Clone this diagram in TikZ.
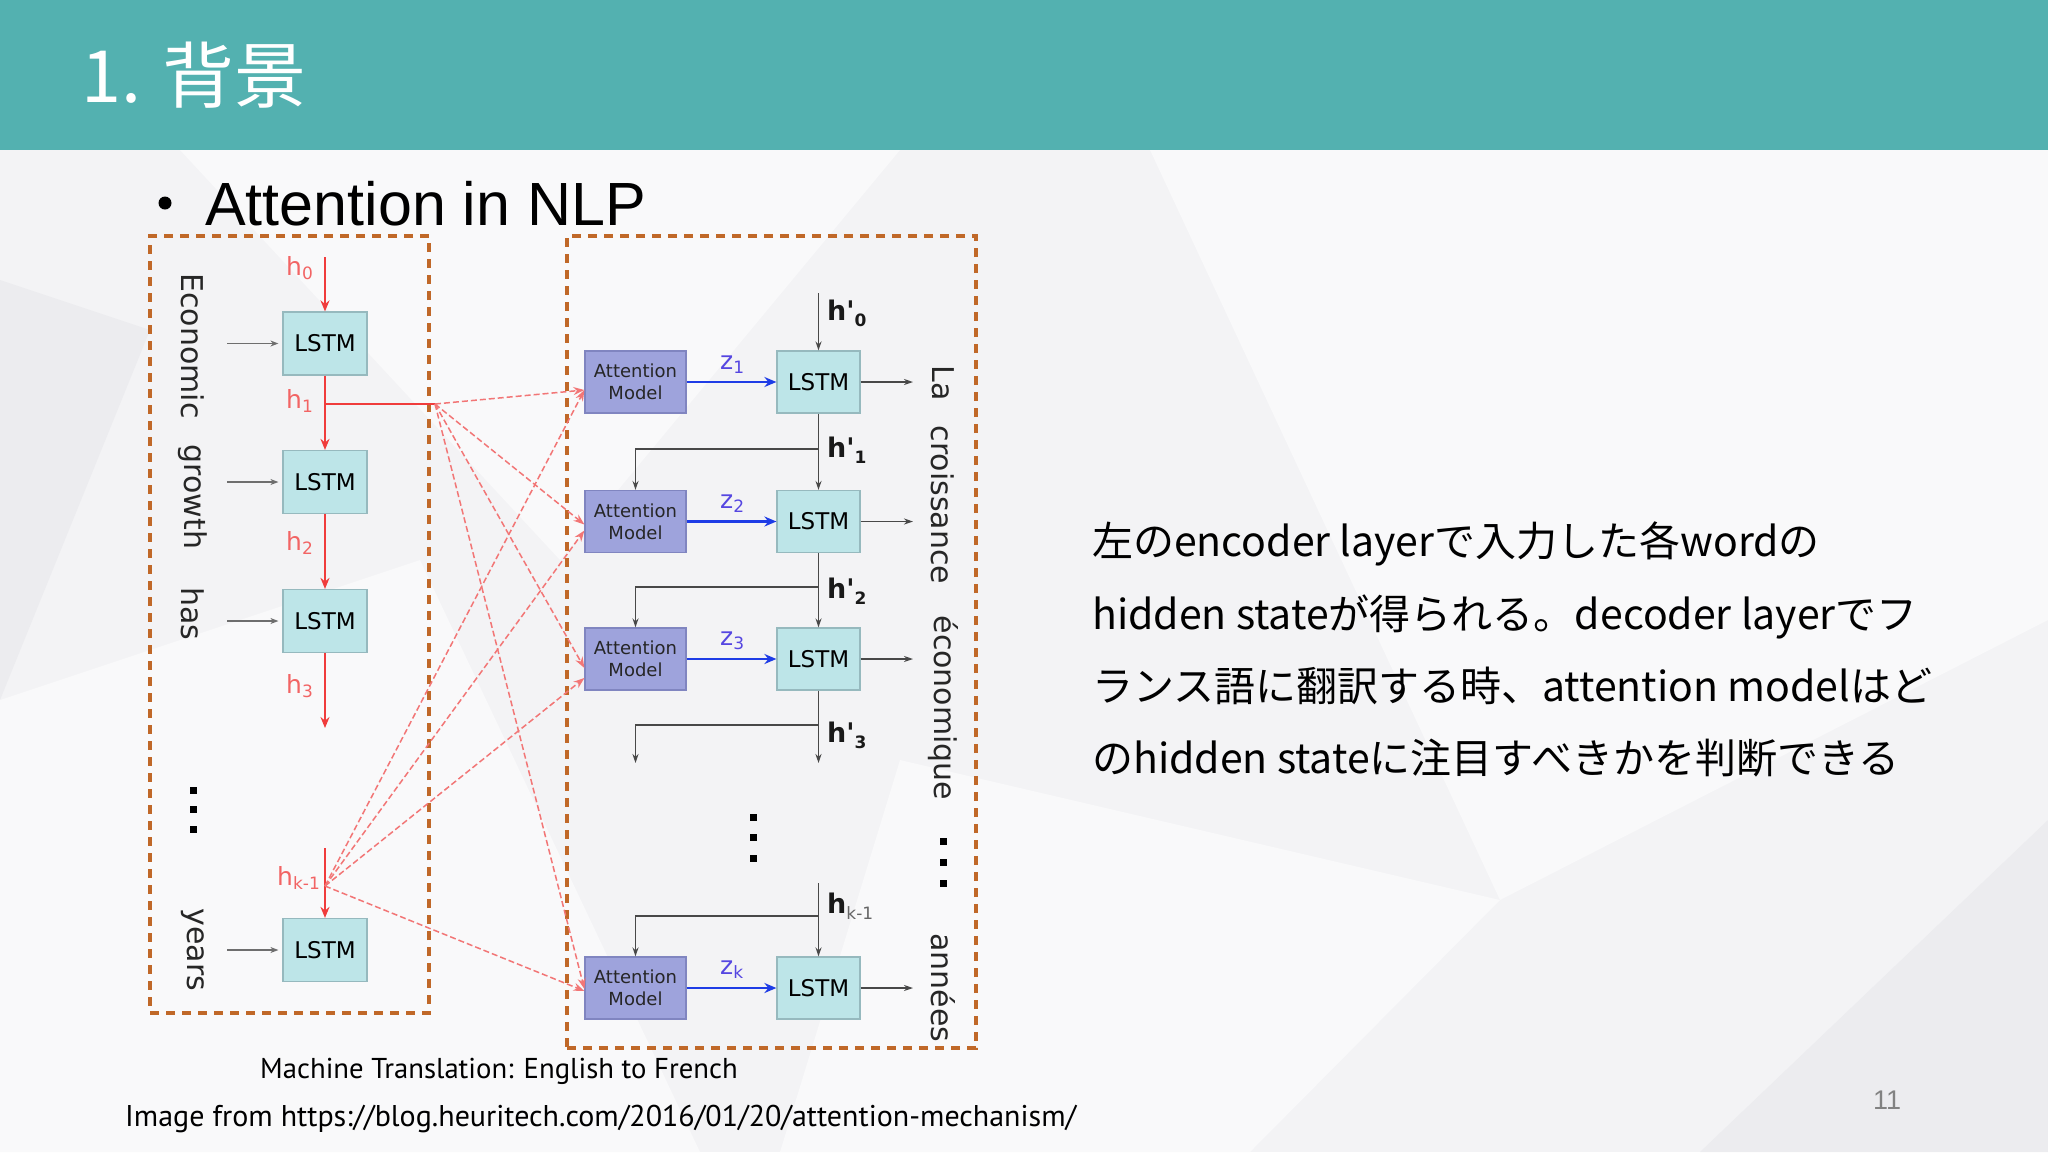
\documentclass[tikz,border=0pt]{standalone}
\usepackage{fontspec}
\setmainfont{Liberation Sans}
\newfontfamily\cjk{Noto Sans CJK JP}
\newfontfamily\dv{DejaVu Sans}
\newfontfamily\pts{PT Sans}
\usetikzlibrary{arrows.meta}
\definecolor{bandteal}{RGB}{83,177,176}
\definecolor{bgbase}{RGB}{243,243,245}
\definecolor{bglight}{RGB}{249,249,250}
\definecolor{bgdark}{RGB}{236,236,239}
\definecolor{dashorange}{RGB}{192,104,40}
\definecolor{lstmfill}{RGB}{189,229,232}
\definecolor{lstmborder}{RGB}{150,185,190}
\definecolor{attnfill}{RGB}{158,163,220}
\definecolor{attnborder}{RGB}{128,133,192}
\definecolor{redline}{RGB}{240,60,60}
\definecolor{fanred}{RGB}{242,118,118}
\definecolor{redtext}{RGB}{242,100,100}
\definecolor{darkline}{RGB}{72,72,72}
\definecolor{grayline}{RGB}{110,110,110}
\definecolor{bluearr}{RGB}{30,60,230}
\definecolor{zblue}{RGB}{85,70,225}
\definecolor{pagegray}{RGB}{130,130,130}
\newcommand\rsb[1]{\raisebox{-4pt}{\fontsize{17}{17}\selectfont #1}}
\newcommand\dsb[1]{\raisebox{-6pt}{\fontsize{17}{17}\selectfont #1}}
\tikzset{
 obox/.style={draw=dashorange, line width=4pt, dash pattern=on 9pt off 7pt, inner sep=0, anchor=north west},
 lstm/.style={draw=lstmborder, fill=lstmfill, line width=1.2pt, minimum width=84pt, minimum height=63pt, inner sep=0, font=\dv\fontsize{23}{23}\selectfont, text=black},
 attn/.style={draw=attnborder, fill=attnfill, line width=1.2pt, minimum width=101pt, minimum height=62pt, inner sep=0, align=center, font=\dv\fontsize{18}{22}\selectfont, text=black!85},
 redarr/.style={draw=redline, line width=2pt, -{Stealth[length=11pt,width=9pt]}},
 redln/.style={draw=redline, line width=2pt},
 fan/.style={draw=fanred, line width=1.5pt, dash pattern=on 6pt off 3pt, -{Stealth[length=11pt,width=8pt]}},
 darr/.style={draw=darkline, line width=1.6pt, -{Stealth[length=9pt,width=6pt]}},
 garr/.style={draw=grayline, line width=1.2pt, -{Stealth[length=8pt,width=6pt]}},
 blarr/.style={draw=bluearr, line width=2.2pt, -{Stealth[length=12pt,width=10pt]}},
 rlab/.style={anchor=base west, inner sep=0, text=redtext, font=\dv\fontsize{25}{25}\selectfont},
 dlab/.style={anchor=base west, inner sep=0, text=black!90, font=\dv\bfseries\fontsize{27}{27}\selectfont},
 zlab/.style={anchor=base west, inner sep=0, text=zblue, font=\dv\fontsize{25}{25}\selectfont},
 word/.style={rotate=-90, inner sep=0, font=\dv\fontsize{30}{30}\selectfont, text=black!85},
 dotsq/.style={fill=black, minimum size=7pt, inner sep=0},
 jp/.style={anchor=base west, inner sep=0, font=\cjk\fontsize{41}{41}\selectfont, text=black},
}
\begin{document}
\begin{tikzpicture}[x=1pt,y=-1pt]
\useasboundingbox (0,0) rectangle (2048,1152);
% background
\fill[bgbase] (0,0) rectangle (2048,1152);
\fill[bglight] (180,150) -- (900,150) -- (560,560) -- cycle;
\fill[bglight] (1150,150) -- (2048,150) -- (2048,620) -- (1500,900) -- cycle;
\fill[bgdark] (0,280) -- (150,330) -- (0,700) -- cycle;
\fill[bglight] (0,700) -- (420,560) -- (700,1152) -- (0,1152) -- cycle;
\fill[bgdark] (1700,1152) -- (2048,820) -- (2048,1152) -- cycle;
\fill[bglight] (900,760) -- (1500,900) -- (1250,1152) -- (780,1152) -- cycle;
% header band
\fill[bandteal] (0,0) rectangle (2048,150);
\node[anchor=base west, inner sep=0, text=white, font=\cjk\fontsize{72}{80}\selectfont] (title) at (81,102) {1. 背景};
\node[circle, fill=black, inner sep=0, minimum size=13pt] (bul) at (165,203) {};
\node[anchor=base west, inner sep=0, font=\fontsize{61}{70}\selectfont] (sub) at (205,225) {Attention in NLP};
% dashed boxes
\node[obox, minimum width=279pt, minimum height=777pt] (encbox) at (148,234) {};
\node[obox, minimum width=409pt, minimum height=812pt] (decbox) at (565,234) {};
% encoder
\node[lstm] (e1) at (325,343.5) {LSTM};
\node[lstm] (e2) at (325,482) {LSTM};
\node[lstm] (e3) at (325,621) {LSTM};
\node[lstm] (ek) at (325,950) {LSTM};
\coordinate (h0s) at (325,257);
\coordinate (h3e) at (325,728);
\coordinate (hks) at (325,848);
\draw[redarr] (h0s) -- (e1.north);
\draw[redarr] (e1.south) -- (e2.north);
\draw[redarr] (e2.south) -- (e3.north);
\draw[redarr] (e3.south) -- (h3e);
\draw[redarr] (hks) -- (ek.north);
\node[rlab] (lh0) at (286,275) {h\rsb{0}};
\node[rlab] (lh1) at (286,408) {h\rsb{1}};
\node[rlab] (lh2) at (286,550) {h\rsb{2}};
\node[rlab] (lh3) at (286,693) {h\rsb{3}};
\node[rlab] (lhk) at (277,885) {h\rsb{k-1}};
% encoder inputs
\foreach \n/\yy in {i1/343.5, i2/482, i3/621, ik/950} {\coordinate (\n) at (227,\yy);}
\draw[garr] (i1) -- ([xshift=-4pt]e1.west);
\draw[garr] (i2) -- ([xshift=-4pt]e2.west);
\draw[garr] (i3) -- ([xshift=-4pt]e3.west);
\draw[garr] (ik) -- ([xshift=-4pt]ek.west);
\node[word] (w1) at (193,346) {Economic};
\node[word] (w2) at (193,497) {growth};
\node[word] (w3) at (193,614) {has};
\node[word] (wk) at (193,950) {years};
\node[dotsq] (ld1) at (193,790) {};
\node[dotsq] (ld2) at (193,809) {};
\node[dotsq] (ld3) at (193,829) {};
% decoder
\node[attn] (a1) at (635.5,382) {Attention\\Model};
\node[attn] (a2) at (635.5,521.5) {Attention\\Model};
\node[attn] (a3) at (635.5,659) {Attention\\Model};
\node[attn] (ak) at (635.5,988) {Attention\\Model};
\node[lstm, minimum width=83pt, minimum height=62pt] (d1) at (818.5,382) {LSTM};
\node[lstm, minimum width=83pt, minimum height=62pt] (d2) at (818.5,521.5) {LSTM};
\node[lstm, minimum width=83pt, minimum height=62pt] (d3) at (818.5,659) {LSTM};
\node[lstm, minimum width=83pt, minimum height=62pt] (dk) at (818.5,988) {LSTM};
\draw[blarr] (a1.east) -- (d1.west);
\draw[blarr] (a2.east) -- (d2.west);
\draw[blarr] (a3.east) -- (d3.west);
\draw[blarr] (ak.east) -- (dk.west);
\node[zlab] (z1) at (720,369) {z\rsb{1}};
\node[zlab] (z2) at (720,508) {z\rsb{2}};
\node[zlab] (z3) at (720,645) {z\rsb{3}};
\node[zlab] (zk) at (720,974) {z\rsb{k}};
\coordinate (hp0) at (818.5,293);
\coordinate (j1) at (818.5,449);
\coordinate (j2) at (818.5,587);
\coordinate (j3) at (818.5,725);
\coordinate (e3d) at (818.5,763);
\coordinate (e3a) at (635.5,763);
\coordinate (hkd) at (818.5,883);
\coordinate (jk) at (818.5,916);
\draw[darr] (hp0) -- (d1.north);
\draw[darr] (d1.south) -- (d2.north);
\draw[darr] (j1) -| (a2.north);
\draw[darr] (d2.south) -- (d3.north);
\draw[darr] (j2) -| (a3.north);
\draw[darr] (d3.south) -- (e3d);
\draw[darr] (j3) -| (e3a);
\draw[darr] (hkd) -- (dk.north);
\draw[darr] (jk) -| (ak.north);
\node[dlab] (lp0) at (827,320) {h\textquotesingle\dsb{0}};
\node[dlab] (lp1) at (827,457) {h\textquotesingle\dsb{1}};
\node[dlab] (lp2) at (827,598) {h\textquotesingle\dsb{2}};
\node[dlab] (lp3) at (827,742) {h\textquotesingle\dsb{3}};
\node[dlab] (lpk) at (827,913) {h\dsb{\mdseries\textcolor{black!60}{k-1}}};
\foreach \n/\yy in {o1/382, o2/521.5, o3/659, ok/988} {\coordinate (\n) at (913,\yy);}
\draw[darr] (d1.east) -- (o1);
\draw[darr] (d2.east) -- (o2);
\draw[darr] (d3.east) -- (o3);
\draw[darr] (dk.east) -- (ok);
\node[dotsq] (md1) at (753,817) {};
\node[dotsq] (md2) at (753,837) {};
\node[dotsq] (md3) at (753,858) {};
\node[word] (f1) at (943,383) {La};
\node[word] (f2) at (943,505) {croissance};
\node[word] (f3) at (943,708) {économique};
\node[word] (fk) at (943,988) {années};
\node[dotsq] (rd1) at (943,841) {};
\node[dotsq] (rd2) at (943,862) {};
\node[dotsq] (rd3) at (943,883) {};
% attention fan
\coordinate (b1) at (325,404);
\coordinate (fo1) at (435,404);
\coordinate (fok) at (325,886);
\draw[redln] (b1) -- (fo1);
\draw[fan] (fo1) -- ([yshift=-8pt]a1.west);
\draw[fan] (fo1) -- ([yshift=-3pt]a2.west);
\draw[fan] (fo1) -- ([yshift=-9pt]a3.west);
\draw[fan] (fo1) -- ([yshift=-1pt]ak.west);
\draw[fan] (fok) -- ([yshift=-8pt]a1.west);
\draw[fan] (fok) -- ([yshift=-9pt]a2.west);
\draw[fan] (fok) -- ([yshift=-19pt]a3.west);
\draw[fan] (fok) -- ([yshift=-3pt]ak.west);
% right text
\node[jp] (t1) at (1092,556) {左のencoder layerで入力した各wordの};
\node[jp] (t2) at (1092,629) {hidden stateが得られる。decoder layerでフ};
\node[jp] (t3) at (1092,701) {ランス語に翻訳する時、attention modelはど};
\node[jp] (t4) at (1092,773) {のhidden stateに注目すべきかを判断できる};
% captions
\node[anchor=base west, inner sep=0, font=\pts\fontsize{28.7}{29}\selectfont] (cap1) at (260,1078) {Machine Translation: English to French};
\node[anchor=base west, inner sep=0, font=\pts\fontsize{30}{30}\selectfont] (cap2) at (125,1126) {Image from https://blog.heuritech.com/2016/01/20/attention-mechanism/};
\node[anchor=base west, inner sep=0, text=pagegray, font=\fontsize{27}{27}\selectfont] (pnum) at (1873,1109) {11};
\end{tikzpicture}
\end{document}
